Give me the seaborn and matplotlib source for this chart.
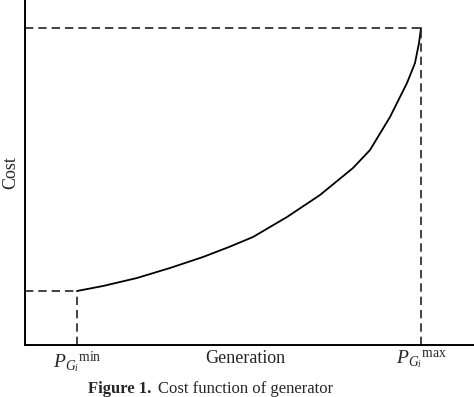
import numpy as np
import pandas as pd
import seaborn as sns
import matplotlib.pyplot as plt

# cost curve (arbitrary units)
generation = [52, 78, 112, 145, 178, 204, 228, 262, 295, 328, 345, 365, 382, 390, 394, 396]
cost = [54, 59, 67, 77, 88, 98, 108, 128, 150, 177, 195, 228, 262, 282, 302, 317]
p_min, p_max = 52, 396
c_min, c_max = 54, 317
tick_labels = [r'$P_{G_i}{}^{\mathrm{min}}$', r'$P_{G_i}{}^{\mathrm{max}}$']

sns.set_style('white')
plt.rcParams['font.family'] = ['Liberation Serif', 'DejaVu Serif']
plt.rcParams['mathtext.fontset'] = 'custom'
plt.rcParams['mathtext.rm'] = 'Liberation Serif'
plt.rcParams['mathtext.it'] = 'Liberation Serif:italic'

fig = plt.figure(figsize=(4.74, 3.97), dpi=100)
ax = fig.add_axes([25 / 474, 52 / 397, 449 / 474, 345 / 397])

df = pd.DataFrame({'Generation': generation, 'Cost': cost})
sns.lineplot(data=df, x='Generation', y='Cost', sort=False, color='black', lw=1.3,
             solid_joinstyle='round', ax=ax)

dash = dict(color='#222222', lw=1.2, linestyle=(0, (5, 3)))
ax.plot([0, p_min], [c_min, c_min], **dash)
ax.plot([p_min, p_min], [0, c_min], **dash)
ax.plot([0, p_max], [c_max, c_max], **dash)
ax.plot([p_max, p_max], [0, c_max], **dash)

ax.set_xlim(0, 449)
ax.set_ylim(0, 345)
ax.set_xticks([p_min, p_max])
ax.set_xticklabels(tick_labels, fontsize=14)
ax.set_yticks([])
ax.tick_params(axis='x', length=0, pad=3)
ax.set_xlabel('Generation', fontsize=13)
ax.xaxis.label.set_va('center')
ax.xaxis.set_label_coords(220 / 449, -0.038)
ax.set_ylabel('Cost', fontsize=13, labelpad=4)

sns.despine(ax=ax)
for s in ['left', 'bottom']:
    ax.spines[s].set_color('black')
    ax.spines[s].set_linewidth(1.4)

fig.text(88 / 474, 4 / 397, 'Figure 1.', fontsize=12, fontweight='bold', va='baseline')
fig.text(158 / 474, 4 / 397, 'Cost function of generator', fontsize=12, va='baseline')

fig.savefig('out.png', dpi=100)
